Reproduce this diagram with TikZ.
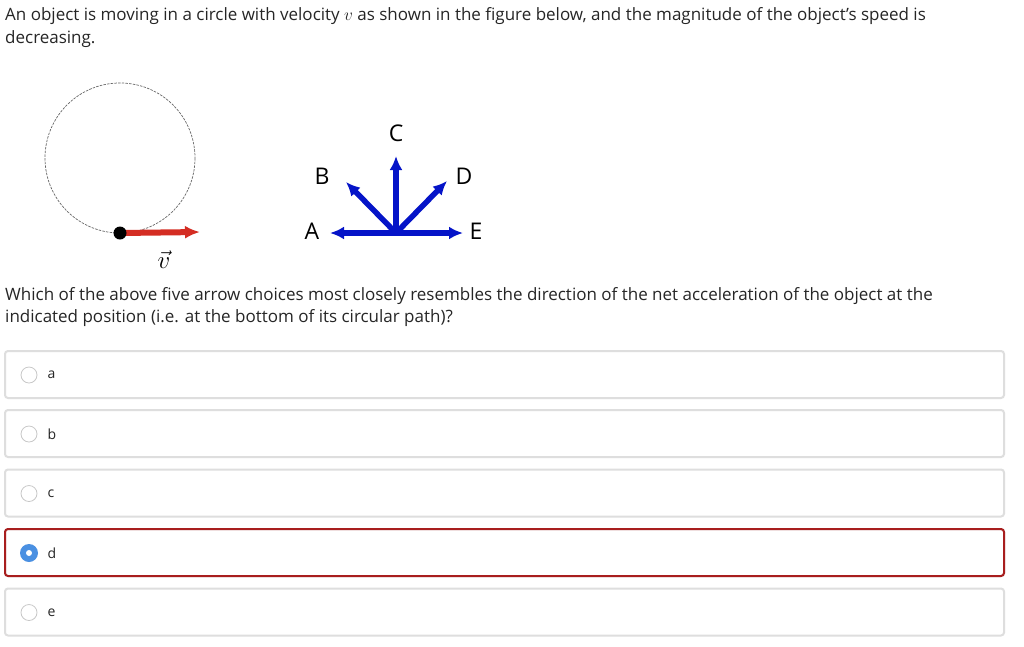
\documentclass[tikz,border=0pt]{standalone}
\usepackage{fontspec}
\setmainfont{Open Sans}[Ligatures=ResetAll]
\usetikzlibrary{arrows.meta, calc}
\definecolor{boxgray}{RGB}{222,222,222}
\definecolor{radiogray}{RGB}{200,200,200}
\definecolor{pickred}{RGB}{168,30,30}
\definecolor{pickblue}{RGB}{74,144,226}
\definecolor{arrowblue}{RGB}{5,20,200}
\definecolor{vred}{RGB}{212,45,35}
\tikzset{
    pics/choice/.style = {
        code = {%
        \coordinate (-west) at (0, 0);
        \coordinate (-radio) at (24, 24);
        \coordinate (-text) at (39, 24);
        \draw[boxgray, line width=2pt, rounded corners=3pt, fill=white](0,0) rectangle (999,47);
        \draw[radiogray, line width=0.8pt, fill=white](24,24)circle[radius=8];
        }
    },
    pick/.style = {arrowblue, line width=5.5pt, -{Latex[length=14pt,width=13pt]}},
    letter/.style = {font=\fontsize{23}{26}\selectfont},
    body/.style = {anchor=base west, inner sep=0pt, font=\fontsize{17}{22}\selectfont, text=black!85},
    optlab/.style = {anchor=west, font=\fontsize{14}{16}\selectfont, text=black!85},
}

\begin{document}
\begin{tikzpicture}[x=1pt, y=-1pt]
\useasboundingbox[fill=white] (0,0) rectangle (1024,646);

\node[body] (q1) at (5,20) {An object is moving in a circle with velocity $v$ as shown in the figure below, and the magnitude of the object\symbol{"0027}s speed is};
\node[body] (q2) at (5,43) {decreasing.};

% circle and velocity
\coordinate (ctr) at (120,158);
\draw[black!60, dash pattern=on 2.5pt off 1.2pt, line width=0.7pt] (ctr) circle[radius=75];
\coordinate (obj) at ($(ctr)+(0,75)$);
\coordinate (vtip) at ($(obj)+(80,-1)$);
\draw[vred, line width=6pt, -{Latex[length=15pt,width=13pt]}] (obj) -- (vtip);
\fill (obj) circle[radius=6.5];
\node[font=\fontsize{24}{26}\selectfont] (vlab) at ($(obj)+(44,27)$) {$\vec{v}$};

% five arrow choices
\coordinate (o) at (396,233);
\coordinate (ta) at ($(o)+(-66,0)$);
\coordinate (tb) at ($(o)+(-50,-51)$);
\coordinate (tc) at ($(o)+(0,-77)$);
\coordinate (td) at ($(o)+(51,-52)$);
\coordinate (te) at ($(o)+(67,0)$);
\foreach \t in {ta,tb,tc,td,te}
    \draw[pick] (o) -- (\t);
\node[letter] (la) at (312,231) {A};
\node[letter] (lb) at (322,176) {B};
\node[letter] (lc) at (396,133) {C};
\node[letter] (ld) at (464,176) {D};
\node[letter] (le) at (476,231) {E};

\node[body] (q3) at (5,300) {Which of the above five arrow choices most closely resembles the direction of the net acceleration of the object at the};
\node[body] (q4) at (5,322) {indicated position (i.e. at the bottom of its circular path)?};

% answer boxes
\pic(a) at (5,351) {choice};
\node[optlab] at (a-text) {a};

\pic(b) at (5,410) {choice};
\node[optlab] at (b-text) {b};

\pic(c) at (5,469.5) {choice};
\node[optlab] at (c-text) {c};

\pic(d) at (5,529) {choice};
\draw[pickred, line width=2pt, rounded corners=3pt] (d-west) rectangle ($(d-west)+(999,47)$);
\fill[pickblue] (d-radio) circle[radius=9];
\fill[white] (d-radio) circle[radius=3];
\node[optlab] at (d-text) {d};

\pic(e) at (5,588.5) {choice};
\node[optlab] at (e-text) {e};
\end{tikzpicture}
\end{document}
